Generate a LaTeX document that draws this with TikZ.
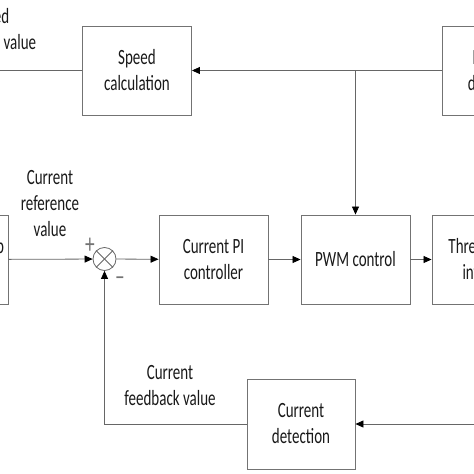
\documentclass[tikz,border=0pt]{standalone}
\usepackage{fontspec}
\setmainfont{Carlito}[FakeStretch=0.69]
\usetikzlibrary{arrows.meta, positioning}

\begin{document}
\begin{tikzpicture}[
  x=1pt, y=-1pt,
  every node/.style={font=\fontsize{21.75}{26}\selectfont, text=black!90},
  block/.style={draw=black!55, line width=0.9pt, minimum width=109pt, minimum height=89pt, align=center, inner sep=0pt},
  lbl/.style={align=center, inner sep=0pt},
  sumnode/.style={draw=black!60, line width=0.8pt, circle, minimum size=23pt, inner sep=0pt},
  sgn/.style={text=black!55, font=\fontsize{28}{28}\selectfont, inner sep=0pt},
  arr/.style={draw=black!60, line width=0.8pt, -{Triangle[length=8pt, width=7pt, color=black]}},
  wire/.style={draw=black!60, line width=0.8pt}
]
  \useasboundingbox (0,0) rectangle (474,474);
  \clip (0,0) rectangle (474,474);

  % top row
  \node[block] (speedcalc) at (137,70.5) {Speed\\calculation};
  \node[block] (posdet) at (497,70.5) {Position\\detection};

  % middle row
  \node[block, minimum width=76pt] (speedctrl) at (-30,259.5) {Speed loop\\controller};
  \node[sumnode] (sum) at (104.5,259) {};
  \node[block] (pictrl) at (213.5,259.5) {Current PI\\controller};
  \node[block] (pwm) at (355.5,259.5) {PWM control};
  \node[block] (inv) at (486.5,259.5) {Three-phase\\inverter};

  % bottom row
  \node[block, minimum width=108pt, minimum height=90pt] (curdet) at (301,424) {Current\\detection};

  \coordinate (jn) at (pwm.north |- speedcalc.east);
  \coordinate (fbin) at (480,424);
  \coordinate (spdout) at (-5,70.5);

  % labels
  \node[lbl] (spdfb) at (-9.5,29) {Speed\\feedback value};
  \node[lbl] (curref) at (50,204) {Current\\reference\\value};
  \node[lbl] (curfb) at (170,386) {Current\\feedback value};
  \node[sgn] (plus) at (90,246) {+};
  \node[sgn] (minus) at (120,281) {–};

  % summing junction cross
  \draw[wire] (sum.north west) -- (sum.south east);
  \draw[wire] (sum.north east) -- (sum.south west);

  % connectors
  \draw[arr] (posdet) -- (speedcalc);
  \draw[wire] (speedcalc) -- (spdout);
  \draw[arr] (jn) -- (pwm);
  \draw[arr] (speedctrl) -- (sum);
  \draw[arr] (sum) -- (pictrl);
  \draw[arr] (pictrl) -- (pwm);
  \draw[arr] (pwm) -- (inv);
  \draw[arr] (fbin) -- (curdet);
  \draw[arr] (curdet.west) -| (sum.south);
\end{tikzpicture}
\end{document}
